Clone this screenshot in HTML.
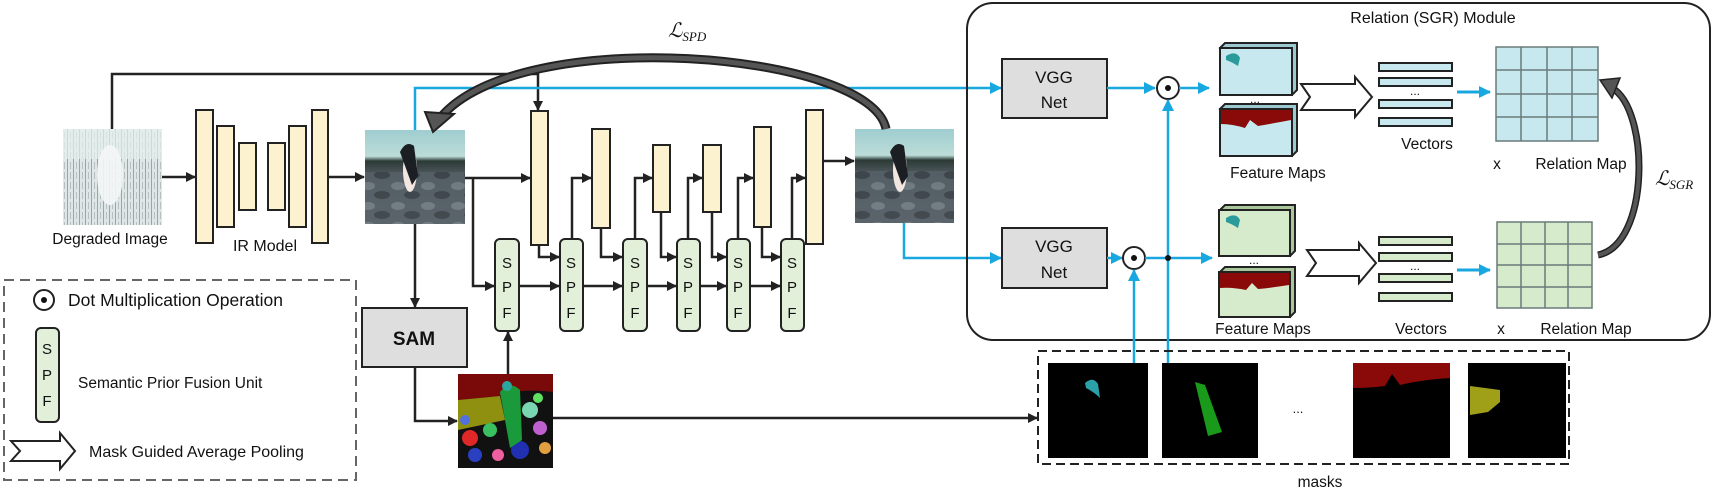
<!DOCTYPE html>
<html><head><meta charset="utf-8"><style>
html,body{margin:0;padding:0;background:#fff;}
svg{display:block;font-family:"Liberation Sans",sans-serif;}
</style></head><body>
<svg width="1713" height="490" viewBox="0 0 1713 490" xmlns="http://www.w3.org/2000/svg">
<defs>
<marker id="ab" markerWidth="10" markerHeight="10" refX="9" refY="5" orient="auto" markerUnits="userSpaceOnUse"><path d="M0,0 L10,5 L0,10 z" fill="#222"/></marker>
<marker id="au" markerWidth="12" markerHeight="12" refX="11" refY="6" orient="auto" markerUnits="userSpaceOnUse"><path d="M0,0 L12,6 L0,12 z" fill="#19a7e0"/></marker>
<linearGradient id="peng" x1="0" y1="0" x2="0" y2="1">
<stop offset="0" stop-color="#9fcdd0"/><stop offset="0.28" stop-color="#bcdcd8"/><stop offset="0.33" stop-color="#2c3a36"/><stop offset="0.45" stop-color="#4a5458"/><stop offset="1" stop-color="#6c7478"/></linearGradient>
<pattern id="rain" width="6" height="10" patternUnits="userSpaceOnUse"><rect width="6" height="10" fill="#dfe6e6"/><rect x="1" width="1" height="10" fill="#9aa5a5"/><rect x="4" y="2" width="1" height="7" fill="#b7c0c0"/></pattern>
<pattern id="pat" width="30" height="20" patternUnits="userSpaceOnUse"><rect width="30" height="20" fill="#566068"/><ellipse cx="8" cy="6" rx="7" ry="4" fill="#78828a"/><ellipse cx="22" cy="15" rx="8" ry="4" fill="#3a4248"/></pattern>
</defs>

<!-- Degraded image -->
<rect x="63" y="129" width="99" height="96" fill="url(#rain)"/>
<rect x="63" y="129" width="99" height="30" fill="#e4efee" opacity="0.7"/>
<ellipse cx="110" cy="175" rx="13" ry="30" fill="#f4f6f6" opacity="0.9"/>
<text x="110" y="244" font-size="15.5" text-anchor="middle" fill="#111">Degraded Image</text>

<!-- top black loop -->
<polyline points="112,129 112,74 538,74 538,110" fill="none" stroke="#222" stroke-width="2.5" marker-end="url(#ab)"/>

<!-- IR model -->
<g fill="#fdf2cf" stroke="#222" stroke-width="2">
<rect x="196" y="110" width="17" height="133"/>
<rect x="217" y="126" width="17" height="101"/>
<rect x="239" y="143" width="17" height="67"/>
<rect x="268" y="143" width="17" height="67"/>
<rect x="289" y="126" width="17" height="101"/>
<rect x="312" y="110" width="16" height="133"/>
</g>
<text x="265" y="251" font-size="16" text-anchor="middle" fill="#111">IR Model</text>
<line x1="162" y1="177" x2="195" y2="177" stroke="#222" stroke-width="2.5" marker-end="url(#ab)"/>
<line x1="328" y1="177" x2="364" y2="177" stroke="#222" stroke-width="2.5" marker-end="url(#ab)"/>

<!-- restored penguin image -->
<g>
<rect x="365" y="130" width="100" height="94" fill="url(#peng)"/>
<rect x="365" y="172" width="100" height="52" fill="url(#pat)" opacity="0.8"/>
<ellipse cx="410" cy="170" rx="7" ry="22" fill="#f1e6e0"/>
<path d="M400 152 Q406 140 414 146 L418 176 L412 185 Z" fill="#1b1e22"/>
</g>
<!-- blue top line -->
<polyline points="415,130 415,88 1001,88" fill="none" stroke="#19a7e0" stroke-width="2.5" marker-end="url(#au)"/>

<!-- SAM -->
<line x1="415" y1="224" x2="415" y2="307" stroke="#222" stroke-width="2.5" marker-end="url(#ab)"/>
<rect x="362" y="308" width="105" height="59" fill="#dedede" stroke="#222" stroke-width="2"/>
<text x="414" y="345" font-size="19" font-weight="bold" text-anchor="middle" fill="#111">SAM</text>
<polyline points="415,367 415,421 457,421" fill="none" stroke="#222" stroke-width="2.5" marker-end="url(#ab)"/>

<!-- seg image -->
<g>
<rect x="458" y="374" width="95" height="94" fill="#111"/>
<path d="M458 374 H553 V392 Q520 388 500 396 Q480 398 458 400 Z" fill="#7a0a0a"/>
<path d="M458 400 Q480 398 500 396 L505 420 L458 430 Z" fill="#8f8f10"/>
<circle cx="470" cy="438" r="8" fill="#e02828"/><circle cx="490" cy="430" r="7" fill="#3ac060"/>
<circle cx="530" cy="410" r="8" fill="#7ad6b0"/><circle cx="540" cy="428" r="7" fill="#c060d0"/>
<circle cx="475" cy="455" r="7" fill="#2a40c0"/><circle cx="520" cy="450" r="9" fill="#2030b0"/>
<circle cx="545" cy="448" r="6" fill="#e0a040"/><circle cx="465" cy="420" r="5" fill="#5070e0"/>
<circle cx="498" cy="455" r="6" fill="#f060a0"/><circle cx="538" cy="398" r="5" fill="#60e060"/>
<path d="M500 392 Q510 380 520 390 L522 440 L510 448 Z" fill="#1a9a3a"/>
<circle cx="507" cy="386" r="5" fill="#2aa8a0"/>
</g>
<line x1="508" y1="374" x2="508" y2="332" stroke="#222" stroke-width="2.5" marker-end="url(#ab)"/>

<!-- long line to masks -->
<line x1="553" y1="418" x2="1037" y2="418" stroke="#222" stroke-width="2.5" marker-end="url(#ab)"/>

<!-- decoder -->
<line x1="465" y1="178" x2="530" y2="178" stroke="#222" stroke-width="2.5" marker-end="url(#ab)"/>
<polyline points="473,178 473,286 494,286" fill="none" stroke="#222" stroke-width="2.5" marker-end="url(#ab)"/>
<g fill="#fdf2cf" stroke="#222" stroke-width="2">
<rect x="531" y="111" width="17" height="134"/>
<rect x="592" y="129" width="18" height="99"/>
<rect x="653" y="145" width="17" height="67"/>
<rect x="703" y="145" width="18" height="67"/>
<rect x="754" y="127" width="17" height="100"/>
<rect x="806" y="110" width="17" height="134"/>
</g>
<g fill="none" stroke="#222" stroke-width="2.5">
<polyline points="539,245 539,257 559,257" marker-end="url(#ab)"/>
<polyline points="601,228 601,257 622,257" marker-end="url(#ab)"/>
<polyline points="661,212 661,257 676,257" marker-end="url(#ab)"/>
<polyline points="712,212 712,257 726,257" marker-end="url(#ab)"/>
<polyline points="762,227 762,257 780,257" marker-end="url(#ab)"/>
<polyline points="572,239 572,178 591,178" marker-end="url(#ab)"/>
<polyline points="635,239 635,178 652,178" marker-end="url(#ab)"/>
<polyline points="688,239 688,178 702,178" marker-end="url(#ab)"/>
<polyline points="738,239 738,178 753,178" marker-end="url(#ab)"/>
<polyline points="792,239 792,178 805,178" marker-end="url(#ab)"/>
<line x1="519" y1="286" x2="559" y2="286" marker-end="url(#ab)"/>
<line x1="583" y1="286" x2="622" y2="286" marker-end="url(#ab)"/>
<line x1="647" y1="286" x2="676" y2="286" marker-end="url(#ab)"/>
<line x1="700" y1="286" x2="726" y2="286" marker-end="url(#ab)"/>
<line x1="750" y1="286" x2="780" y2="286" marker-end="url(#ab)"/>
<line x1="823" y1="161" x2="854" y2="161" marker-end="url(#ab)"/>
</g>
<g fill="#e2efd9" stroke="#222" stroke-width="2">
<rect x="495" y="239" width="24" height="92" rx="5"/>
<rect x="560" y="239" width="23" height="92" rx="5"/>
<rect x="623" y="239" width="24" height="92" rx="5"/>
<rect x="677" y="239" width="23" height="92" rx="5"/>
<rect x="727" y="239" width="23" height="92" rx="5"/>
<rect x="781" y="239" width="23" height="92" rx="5"/>
</g>
<g font-size="15" text-anchor="middle" fill="#111">
<text x="507" y="268">S</text><text x="507" y="292">P</text><text x="507" y="318">F</text>
<text x="571" y="268">S</text><text x="571" y="292">P</text><text x="571" y="318">F</text>
<text x="635" y="268">S</text><text x="635" y="292">P</text><text x="635" y="318">F</text>
<text x="688" y="268">S</text><text x="688" y="292">P</text><text x="688" y="318">F</text>
<text x="738" y="268">S</text><text x="738" y="292">P</text><text x="738" y="318">F</text>
<text x="792" y="268">S</text><text x="792" y="292">P</text><text x="792" y="318">F</text>
</g>

<!-- output penguin image -->
<g>
<rect x="855" y="129" width="99" height="94" fill="url(#peng)"/>
<rect x="855" y="171" width="99" height="52" fill="url(#pat)" opacity="0.8"/>
<ellipse cx="900" cy="170" rx="7" ry="22" fill="#f1e6e0"/>
<path d="M890 152 Q896 140 904 146 L908 176 L902 185 Z" fill="#1b1e22"/>
</g>
<polyline points="904,223 904,258 1001,258" fill="none" stroke="#19a7e0" stroke-width="2.5" marker-end="url(#au)"/>

<!-- L_SPD arc -->
<path d="M886 129 C 872 52, 520 22, 440 118" fill="none" stroke="#222" stroke-width="9"/>
<path d="M886 129 C 872 52, 520 22, 440 118" fill="none" stroke="#555" stroke-width="5"/>
<polygon points="425,112 454,114 433,132" fill="#555" stroke="#222" stroke-width="2"/>
<text x="668" y="37" font-size="20" font-style="italic" font-family="Liberation Serif,serif" fill="#111">ℒ<tspan font-size="13" dy="4">SPD</tspan></text>

<!-- Relation module -->
<rect x="967" y="3" width="743" height="337" rx="26" fill="none" stroke="#222" stroke-width="2"/>
<text x="1433" y="23" font-size="16" text-anchor="middle" fill="#111">Relation (SGR) Module</text>

<g fill="#dedede" stroke="#222" stroke-width="2">
<rect x="1002" y="59" width="105" height="59"/>
<rect x="1002" y="228" width="105" height="60"/>
</g>
<g font-size="17" text-anchor="middle" fill="#111">
<text x="1054" y="83">VGG</text><text x="1054" y="108">Net</text>
<text x="1054" y="252">VGG</text><text x="1054" y="278">Net</text>
</g>
<!-- top row -->
<line x1="1107" y1="88" x2="1155" y2="88" stroke="#19a7e0" stroke-width="2.5" marker-end="url(#au)"/>
<circle cx="1168" cy="88" r="11" fill="#fff" stroke="#222" stroke-width="2"/><circle cx="1168" cy="88" r="3" fill="#111"/>
<line x1="1179" y1="88" x2="1209" y2="88" stroke="#19a7e0" stroke-width="2.5" marker-end="url(#au)"/>
<line x1="1168" y1="363" x2="1168" y2="100" stroke="#19a7e0" stroke-width="2.5" marker-end="url(#au)"/>
<!-- bottom row -->
<line x1="1107" y1="258" x2="1122" y2="258" stroke="#19a7e0" stroke-width="2.5" marker-end="url(#au)"/>
<circle cx="1134" cy="258" r="11" fill="#fff" stroke="#222" stroke-width="2"/><circle cx="1134" cy="258" r="3" fill="#111"/>
<line x1="1145" y1="258" x2="1212" y2="258" stroke="#19a7e0" stroke-width="2.5" marker-end="url(#au)"/>
<circle cx="1168" cy="258" r="3" fill="#111"/>
<line x1="1134" y1="363" x2="1134" y2="270" stroke="#19a7e0" stroke-width="2.5" marker-end="url(#au)"/>

<!-- feature cubes -->
<g stroke="#222" stroke-width="2">
<path d="M1220 48 L1225 43 L1297 43 L1297 90 L1292 95 Z" fill="#9cc9cf"/>
<rect x="1220" y="48" width="72" height="47" fill="#c6e8ee"/>
<path d="M1220 109 L1225 104 L1297 104 L1297 151 L1292 156 Z" fill="#9cc9cf"/>
<rect x="1220" y="109" width="72" height="47" fill="#c6e8ee"/>
<path d="M1221 110 H1291 V120 Q1270 124 1258 126 L1250 120 L1245 128 Q1232 124 1221 124 Z" fill="#8a0a0a" stroke="none"/>
<path d="M1220 210 L1225 205 L1295 205 L1295 251 L1290 256 Z" fill="#a9c79a"/>
<rect x="1219" y="210" width="71" height="46" fill="#d6ebcb"/>
<path d="M1220 272 L1225 267 L1295 267 L1295 312 L1290 317 Z" fill="#a9c79a"/>
<rect x="1219" y="272" width="71" height="45" fill="#d6ebcb"/>
<path d="M1220 273 H1289 V285 Q1270 288 1258 289 L1252 283 L1246 290 Q1232 287 1220 288 Z" fill="#8a0a0a" stroke="none"/>
</g>
<path d="M1226 56 Q1236 50 1240 58 L1238 66 Q1232 62 1226 60 Z" fill="#2a9a9a"/>
<path d="M1226 218 Q1236 212 1240 220 L1238 228 Q1232 224 1226 222 Z" fill="#2a9a9a"/>
<g font-size="12" text-anchor="middle" fill="#111"><text x="1255" y="103">...</text><text x="1254" y="264">...</text></g>
<g font-size="15.5" text-anchor="middle" fill="#111">
<text x="1278" y="178">Feature Maps</text>
<text x="1263" y="334">Feature Maps</text>
<text x="1427" y="149">Vectors</text>
<text x="1421" y="334">Vectors</text>
<text x="1497" y="169">x</text><text x="1581" y="169">Relation Map</text>
<text x="1501" y="334">x</text><text x="1586" y="334">Relation Map</text>
</g>
<!-- hollow arrows -->
<g fill="#fff" stroke="#222" stroke-width="2">
<polygon points="1301,84 1355,84 1355,77 1372,97 1355,117 1355,110 1301,110 1310,97"/>
<polygon points="1307,250 1359,250 1359,243 1376,263 1359,283 1359,276 1307,276 1316,263"/>
</g>
<!-- vectors -->
<g fill="#c6e8ee" stroke="#222" stroke-width="2">
<rect x="1379" y="63" width="73" height="8"/><rect x="1379" y="78" width="73" height="8"/>
<rect x="1379" y="100" width="73" height="8"/><rect x="1379" y="118" width="73" height="8"/>
</g>
<g fill="#d6ebcb" stroke="#222" stroke-width="2">
<rect x="1379" y="237" width="73" height="8"/><rect x="1379" y="253" width="73" height="8"/>
<rect x="1379" y="274" width="73" height="8"/><rect x="1379" y="293" width="73" height="8"/>
</g>
<g font-size="12" text-anchor="middle" fill="#111"><text x="1415" y="95">...</text><text x="1415" y="270">...</text></g>
<line x1="1457" y1="92" x2="1490" y2="92" stroke="#19a7e0" stroke-width="3" marker-end="url(#au)"/>
<line x1="1457" y1="270" x2="1490" y2="270" stroke="#19a7e0" stroke-width="3" marker-end="url(#au)"/>
<!-- grids -->
<g stroke="#6a7a7a" stroke-width="1.5">
<rect x="1496" y="47" width="102" height="94" fill="#c6e8ee"/>
<path d="M1521 47V141M1547 47V141M1572 47V141M1496 70H1598M1496 94H1598M1496 117H1598" fill="none"/>
<rect x="1497" y="222" width="95" height="86" fill="#d6ebcb"/>
<path d="M1521 222V308M1545 222V308M1568 222V308M1497 244H1592M1497 265H1592M1497 287H1592" fill="none"/>
</g>
<!-- L_SGR arc -->
<path d="M1598 255 C 1650 245, 1650 110, 1612 88" fill="none" stroke="#222" stroke-width="7"/>
<path d="M1598 255 C 1650 245, 1650 110, 1612 88" fill="none" stroke="#555" stroke-width="4"/>
<polygon points="1600,80 1620,78 1612,98" fill="#555" stroke="#222" stroke-width="1.5"/>
<text x="1655" y="185" font-size="20" font-style="italic" font-family="Liberation Serif,serif" fill="#111">ℒ<tspan font-size="13" dy="4">SGR</tspan></text>

<!-- masks -->
<rect x="1038" y="351" width="531" height="113" fill="none" stroke="#222" stroke-width="2" stroke-dasharray="9,5"/>
<rect x="1048" y="363" width="100" height="95" fill="#000"/>
<path d="M1085 383 Q1093 376 1098 384 L1100 398 Q1094 392 1086 388 Z" fill="#2aa0a8"/>
<rect x="1162" y="363" width="96" height="95" fill="#000"/>
<path d="M1195 382 L1205 385 L1222 432 L1208 436 Z" fill="#1a9a1a"/>
<text x="1298" y="413" font-size="13" text-anchor="middle" fill="#111">...</text>
<rect x="1353" y="363" width="97" height="95" fill="#000"/>
<path d="M1353 363 H1450 V378 Q1420 380 1400 385 L1392 374 L1385 386 Q1370 388 1353 388 Z" fill="#8a0a0a"/>
<rect x="1468" y="363" width="98" height="95" fill="#000"/>
<path d="M1470 386 L1500 390 L1500 402 L1488 412 L1470 415 Z" fill="#a0a018"/>
<text x="1320" y="487" font-size="15.5" text-anchor="middle" fill="#111">masks</text>

<!-- legend -->
<rect x="4" y="280" width="352" height="200" fill="none" stroke="#666" stroke-width="2" stroke-dasharray="10,6"/>
<circle cx="44" cy="300" r="10" fill="#fff" stroke="#222" stroke-width="2"/><circle cx="44" cy="300" r="3" fill="#111"/>
<text x="68" y="306" font-size="17.5" fill="#111">Dot Multiplication Operation</text>
<rect x="36" y="328" width="23" height="94" rx="5" fill="#e2efd9" stroke="#222" stroke-width="2"/>
<g font-size="15" text-anchor="middle" fill="#111"><text x="47" y="354">S</text><text x="47" y="380">P</text><text x="47" y="406">F</text></g>
<text x="78" y="388" font-size="15.5" fill="#111">Semantic Prior Fusion Unit</text>
<polygon points="11,441 60,441 60,433 75,451 60,469 60,461 11,461 20,451" fill="#fff" stroke="#222" stroke-width="2"/>
<text x="89" y="457" font-size="16" fill="#111">Mask Guided Average Pooling</text>
</svg>
</body></html>
